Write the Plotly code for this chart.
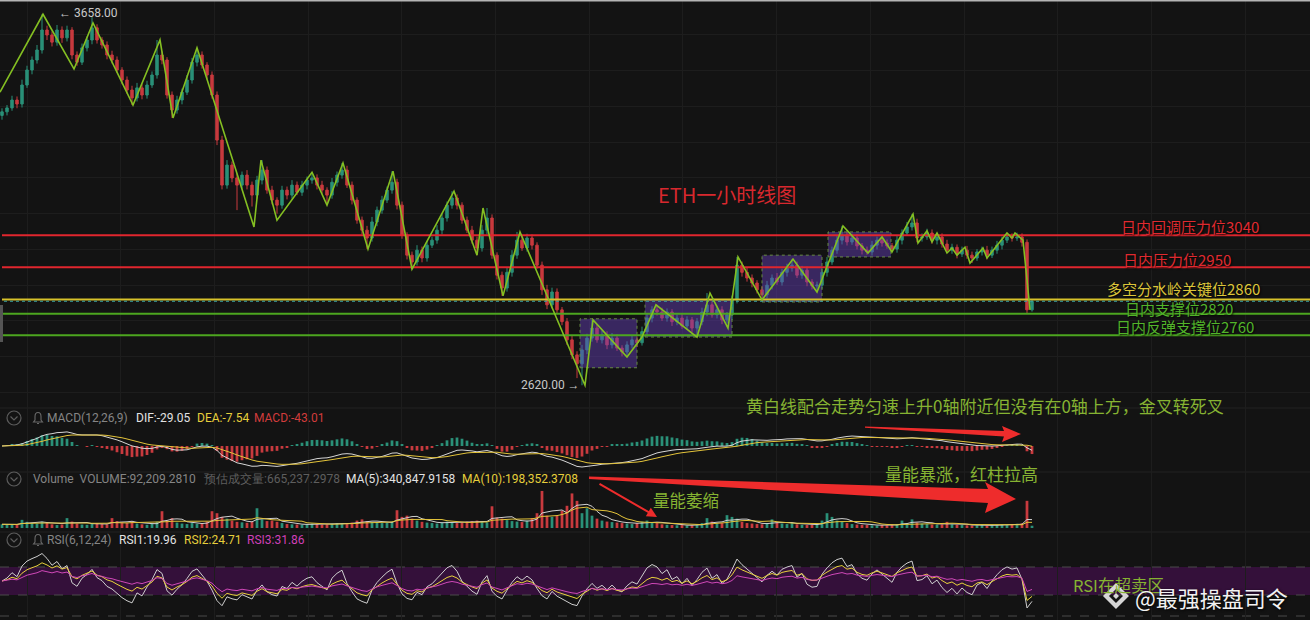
import numpy as np
import pandas as pd
import plotly.graph_objects as go

W, H = 1310, 620

# ---------------- data ----------------
close = [
    3385, 3396, 3418, 3407, 3460, 3502, 3530, 3558, 3614, 3600,
    3580, 3614, 3592, 3614, 3544, 3524, 3564, 3586, 3620, 3586,
    3572, 3544, 3530, 3502, 3474, 3446, 3424, 3452, 3432, 3460,
    3488, 3544, 3530, 3432, 3390, 3418, 3440, 3474, 3524, 3544,
    3516, 3488, 3432, 3306, 3180, 3236, 3200, 3180, 3208, 3180,
    3152, 3194, 3222, 3166, 3138, 3124, 3166, 3152, 3180, 3160,
    3180, 3194, 3200, 3180, 3166, 3152, 3188, 3208, 3222, 3180,
    3138, 3082, 3054, 3032, 3077, 3110, 3138, 3166, 3188, 3124,
    3040, 2984, 2965, 2998, 2976, 3012, 3026, 3054, 3088, 3124,
    3144, 3124, 3082, 3054, 3026, 3004, 3054, 3088, 2984, 2928,
    2892, 2936, 2984, 3026, 3004, 3032, 3012, 2956, 2887, 2845,
    2881, 2831, 2798, 2747, 2705, 2680, 2719, 2752, 2780, 2747,
    2761, 2733, 2752, 2724, 2713, 2733, 2747, 2739, 2770, 2808,
    2831, 2825, 2808, 2825, 2798, 2808, 2786, 2803, 2780, 2798,
    2825, 2845, 2817, 2831, 2803, 2817, 2859, 2956, 2936, 2920,
    2906, 2887, 2873, 2900, 2920, 2909, 2936, 2948, 2956, 2928,
    2942, 2909, 2898, 2900, 2936, 2965, 2998, 3026, 3040, 3021,
    3032, 3010, 2998, 2993, 3012, 3026, 3018, 3010, 3001, 3026,
    3046, 3063, 3074, 3032, 3035, 3046, 3026, 3035, 3015, 2998,
    3006, 2987, 2998, 2984, 2976, 2993, 2998, 2984, 2998, 3012,
    3026, 3035, 3032, 3035, 3020, 2831, 2855,
]
first_open = 3375
wick_up = [
    10, 8, 12, 10, 15, 12, 10, 14, 44, 12,
    10, 14, 10, 12, 8, 10, 12, 10, 30, 10,
    8, 10, 12, 10, 8, 10, 12, 14, 10, 12,
    10, 42, 10, 8, 10, 12, 10, 14, 12, 20,
    10, 8, 10, 10, 12, 14, 10, 12, 10, 14,
    10, 12, 28, 10, 12, 8, 12, 10, 14, 10,
    12, 10, 16, 10, 12, 8, 12, 10, 20, 12,
    10, 8, 10, 12, 14, 10, 12, 10, 31, 10,
    10, 8, 10, 14, 10, 12, 10, 14, 12, 10,
    19, 10, 8, 10, 12, 10, 14, 28, 10, 8,
    10, 12, 14, 23, 10, 12, 10, 8, 10, 14,
    12, 10, 8, 10, 12, 10, 14, 12, 23, 10,
    12, 10, 14, 10, 8, 10, 12, 10, 14, 12,
    10, 14, 12, 10, 8, 10, 12, 10, 8, 10,
    12, 33, 10, 12, 10, 8, 12, 23, 10, 12,
    10, 8, 10, 12, 10, 14, 10, 12, 17, 10,
    12, 10, 8, 10, 12, 14, 10, 12, 26, 10,
    12, 10, 8, 10, 12, 10, 9, 10, 8, 12,
    10, 14, 25, 12, 10, 12, 10, 8, 10, 12,
    10, 8, 10, 12, 10, 8, 10, 12, 10, 12,
    10, 11, 10, 12, 10, 8, 6,
]
wick_dn = [
    12, 10, 8, 12, 10, 8, 12, 10, 10, 14,
    12, 10, 14, 10, 12, 10, 8, 10, 12, 10,
    10, 12, 10, 8, 12, 10, 20, 10, 12, 10,
    8, 10, 12, 10, 22, 10, 12, 8, 10, 12,
    10, 12, 10, 14, 12, 10, 12, 70, 10, 12,
    32, 10, 12, 10, 12, 24, 10, 12, 10, 8,
    10, 12, 10, 12, 10, 28, 10, 12, 10, 8,
    12, 10, 12, 31, 10, 12, 10, 8, 10, 12,
    10, 12, 20, 10, 12, 10, 8, 10, 12, 10,
    10, 12, 10, 8, 10, 20, 10, 12, 10, 12,
    22, 10, 12, 10, 8, 10, 12, 10, 14, 12,
    10, 12, 10, 14, 12, 40, 60, 12, 10, 8,
    10, 12, 10, 8, 12, 14, 10, 12, 8, 10,
    12, 10, 8, 10, 12, 10, 8, 10, 12, 25,
    10, 12, 8, 10, 12, 10, 14, 10, 12, 10,
    12, 10, 14, 10, 12, 8, 10, 12, 10, 8,
    10, 12, 10, 17, 10, 12, 8, 10, 12, 10,
    8, 10, 12, 8, 10, 12, 10, 8, 8, 10,
    12, 8, 10, 12, 10, 8, 10, 12, 10, 8,
    10, 12, 8, 10, 14, 8, 10, 12, 8, 10,
    12, 8, 10, 8, 12, 9, 5,
]
volume_k = [
    150, 130, 160, 140, 330, 250, 200, 180, 260, 220,
    150, 120, 140, 400, 260, 180, 140, 130, 170, 200,
    160, 150, 400, 280, 220, 200, 260, 180, 150, 130,
    170, 250, 680, 300, 400, 220, 180, 160, 200, 170,
    200, 260, 680, 600, 450, 380, 300, 250, 230, 210,
    260, 800, 350, 280, 300, 250, 200, 160, 150, 140,
    130, 150, 180, 160, 140, 150, 170, 200, 180, 160,
    220, 300, 350, 280, 240, 220, 200, 210, 260, 720,
    450, 500, 380, 300, 250, 220, 200, 180, 220, 260,
    240, 200, 220, 260, 280, 300, 250, 230, 880, 420,
    380, 320, 280, 260, 240, 300, 400, 600, 1500, 500,
    450, 500, 700, 900, 1400, 1100, 600, 800, 500, 380,
    300, 260, 240, 220, 200, 180, 160, 200, 260, 300,
    220, 200, 150, 130, 120, 110, 120, 100, 110, 130,
    200, 400, 260, 180, 200, 520, 450, 380, 250, 200,
    180, 160, 150, 200, 350, 220, 180, 160, 200, 150,
    130, 120, 140, 160, 300, 600, 450, 300, 250, 200,
    160, 140, 130, 120, 110, 100, 120, 110, 130, 160,
    300, 200, 350, 220, 180, 160, 140, 130, 150, 250,
    150, 130, 120, 110, 100, 110, 120, 100, 110, 120,
    130, 120, 150, 170, 190, 1100, 92,
]
zz_idx = [-0.4, 8.2, 14.4, 18.2, 26.2, 31.6, 34.2, 39, 50.4, 51.8,
          55, 62, 65, 68.2, 73.2, 78.2, 82, 90.4, 95, 96.2,
          100.2, 103.6, 116.6, 118.2, 125, 128, 130.8, 139, 141.6, 145.2,
          147.2, 152, 158.2, 163, 168.2, 173.2, 176, 178, 182.2, 183.2,
          185, 186, 187, 189, 190, 191, 192.6, 193.6, 196.2, 197,
          201, 202, 202.6, 204.2, 205.6]
zz_price = [3440, 3658, 3505, 3634, 3404, 3586, 3368, 3564, 3063, 3250,
            3082, 3216, 3124, 3242, 3001, 3219, 2945, 3163, 2984, 3116,
            2870, 3049, 2620, 2803, 2699, 2755, 2845, 2755, 2878, 2780,
            2979, 2859, 2973, 2881, 3066, 2990, 3035, 2993, 3099, 3018,
            3052, 3021, 3046, 2990, 3004, 2984, 3006, 2962, 3004, 2976,
            3046, 3032, 3046, 3026, 2831]
levels = [3040, 2950, 2860, 2820, 2760]
level_texts = ["日内回调压力位3040", "日内压力位2950", "多空分水岭关键位2860",
               "日内支撑位2820", "日内反弹支撑位2760"]
box_i0 = [115.6, 128.6, 152.0, 165.2]
box_i1 = [127.0, 146.0, 164.0, 177.8]
box_hi = [2806, 2859, 2984, 3049]
box_lo = [2669, 2755, 2853, 2979]
high_label, low_label = "3658.00", "2620.00"

# ---------------- styles ----------------
BG = "#131313"
GRID = "#1d1d1d"
INC = "#2a9078"
DEC = "#c83a3e"
RED = "#e0262e"
YEL = "#d8c22a"
GRN = "#4ca61f"
TXTG = "#86b332"
level_colors = [RED, RED, YEL, GRN, GRN]
level_font_colors = ["#e02a30", "#e02a30", "#dcc53a", "#52b42a", "#52b42a"]
label_px = [(1190, 226), (1177, 259), (1183, 288.5), (1179, 308), (1185, 326.5)]
CJK = "Noto Sans CJK SC, Noto Sans, sans-serif"
LAT = "Roboto, Noto Sans, sans-serif"

n = len(close)
idx = np.arange(n)
opens = [first_open] + close[:-1]
highs = [max(o, c) + u for o, c, u in zip(opens, close, wick_up)]
lows = [min(o, c) - d for o, c, d in zip(opens, close, wick_dn)]
up_mask = [c >= o for o, c in zip(opens, close)]

c = pd.Series(close, dtype=float)
ema12 = c.ewm(span=12, adjust=False).mean()
ema26 = c.ewm(span=26, adjust=False).mean()
dif = ema12 - ema26
dea = dif.ewm(span=9, adjust=False).mean()
hist = 2 * (dif - dea)

vol = pd.Series(volume_k, dtype=float)
ma5 = vol.rolling(5, min_periods=1).mean()
ma10 = vol.rolling(10, min_periods=1).mean()


def rsi(period):
    # Wilder smoothing, seeded with the average absolute move (neutral start)
    d = np.diff(np.asarray(close, dtype=float), prepend=close[0])
    m = float(np.mean(np.abs(np.diff(close))))
    a, b = 0.5 * m, m
    out = []
    for x in d:
        a += (max(x, 0.0) - a) / period
        b += (abs(x) - b) / period
        out.append(100 * a / b)
    return out


r6, r12, r24 = rsi(6), rsi(12), rsi(24)

fig = go.Figure()
fig.add_trace(go.Candlestick(
    x=idx, open=opens, high=highs, low=lows, close=close,
    increasing=dict(line=dict(color=INC, width=1), fillcolor=INC),
    decreasing=dict(line=dict(color=DEC, width=1), fillcolor=DEC),
    whiskerwidth=0, showlegend=False, hoverinfo="skip", yaxis="y"))

fig.add_trace(go.Bar(x=idx, y=hist, width=0.55, yaxis="y2",
                     marker=dict(color=[INC if h >= 0 else DEC for h in hist], line=dict(width=0))))
fig.add_trace(go.Scatter(x=idx, y=dif, mode="lines", line=dict(color="#d6d6d6", width=1), yaxis="y2"))
fig.add_trace(go.Scatter(x=idx, y=dea, mode="lines", line=dict(color="#e3c33a", width=1), yaxis="y2"))

fig.add_trace(go.Bar(x=idx, y=volume_k, width=0.55, yaxis="y3",
                     marker=dict(color=[INC if u else DEC for u in up_mask], line=dict(width=0))))
fig.add_trace(go.Scatter(x=idx, y=ma5, mode="lines", line=dict(color="#d0d0d0", width=1), yaxis="y3"))
fig.add_trace(go.Scatter(x=idx, y=ma10, mode="lines", line=dict(color="#e3c33a", width=1), yaxis="y3"))

fig.add_trace(go.Scatter(x=idx, y=r6, mode="lines", line=dict(color="#cfcfcf", width=1), yaxis="y4"))
fig.add_trace(go.Scatter(x=idx, y=r12, mode="lines", line=dict(color="#e8d23c", width=1), yaxis="y4"))
fig.add_trace(go.Scatter(x=idx, y=r24, mode="lines", line=dict(color="#d048b8", width=1), yaxis="y4"))

# MACD range: zero at pixel 446 inside panel 408..472, deepest DIF ~21px below zero
mneg = abs(min(dif.min(), dea.min()))
macd_range = [-mneg * 26 / 21, mneg * 38 / 21]


def X(px):
    return px / W


def Y(py):
    return 1 - py / H


def ppath(s):
    out = []
    for t in s.split():
        if "," in t:
            a, b = t.split(",")
            out.append(f"{X(float(a)):.5f},{Y(float(b)):.5f}")
        else:
            out.append(t)
    return " ".join(out)


shapes = []
# RSI band + dashed guides
shapes.append(dict(type="rect", xref="paper", yref="y4", x0=0, x1=1, y0=30, y1=70,
                   fillcolor="#34103a", line=dict(width=0), layer="below"))
for lv in (70, 30, 0):
    shapes.append(dict(type="line", xref="paper", yref="y4", x0=0, x1=1, y0=lv, y1=lv,
                       line=dict(color="#4a4a4a", width=1, dash="dash"), layer="below"))
# panel separators
for py in (408, 472, 532):
    shapes.append(dict(type="line", xref="paper", yref="paper", x0=0, x1=1, y0=Y(py), y1=Y(py),
                       line=dict(color="#222222", width=1), layer="below"))
# consolidation boxes
for a, b, hi, lo in zip(box_i0, box_i1, box_hi, box_lo):
    shapes.append(dict(type="rect", xref="x", yref="y", x0=a, x1=b, y0=lo, y1=hi,
                       fillcolor="rgba(104,64,190,0.45)",
                       line=dict(color="rgba(110,150,70,0.9)", width=1, dash="dot"), layer="above"))
# key levels
for lv, col in zip(levels, level_colors):
    shapes.append(dict(type="line", xref="paper", yref="y", x0=X(2), x1=1, y0=lv, y1=lv,
                       line=dict(color=col, width=2), layer="above"))
# last price dotted line
shapes.append(dict(type="line", xref="paper", yref="y", x0=X(4), x1=1, y0=close[-1], y1=close[-1],
                   line=dict(color="#3aa0a0", width=1, dash="dot"), layer="above"))
# zigzag wave line (drawn through the data axes)
zz = "M " + " L ".join(f"{i},{p}" for i, p in zip(zz_idx, zz_price))
shapes.append(dict(type="path", xref="x", yref="y", path=zz,
                   line=dict(color="#84bf22", width=1.6), layer="above"))
# red arrows
shapes.append(dict(type="path", xref="paper", yref="paper",
                   path=ppath("M 865,426.5 L 1004,431 L 1002,426 L 1021,434 L 1002,442 L 1004,436.5 L 865,427.8 Z"),
                   fillcolor="#ee2c2c", line=dict(width=0), layer="above"))
shapes.append(dict(type="path", xref="paper", yref="paper",
                   path=ppath("M 589,476.5 L 988,489 L 985,482 L 1016,499 L 985,513 L 988,503 L 589,479 Z"),
                   fillcolor="#ee2c2c", line=dict(width=0), layer="above"))
# top border & left handle
shapes.append(dict(type="line", xref="paper", yref="paper", x0=0, x1=1, y0=Y(0.8), y1=Y(0.8),
                   line=dict(color="#b5b5b5", width=1.6), layer="above"))
shapes.append(dict(type="rect", xref="paper", yref="paper", x0=0, x1=X(3), y0=Y(342), y1=Y(305),
                   fillcolor="#555555", line=dict(width=0), layer="above"))
# header icons
for cy, bell in ((418, True), (479, False), (540, True)):
    shapes.append(dict(type="circle", xref="paper", yref="paper", x0=X(7), x1=X(21), y0=Y(cy + 7), y1=Y(cy - 7),
                       line=dict(color="#5c5c5c", width=1.2)))
    shapes.append(dict(type="path", xref="paper", yref="paper",
                       path=ppath(f"M 10.5,{cy - 1.5} L 14,{cy + 2} L 17.5,{cy - 1.5}"),
                       line=dict(color="#5c5c5c", width=1.2)))
    if bell:
        shapes.append(dict(type="path", xref="paper", yref="paper",
                           path=ppath(f"M 33.5,{cy + 4} L 42.5,{cy + 4} L 41,{cy + 2} L 41,{cy - 1.5} "
                                      f"Q 41,{cy - 5.5} 38,{cy - 5.5} Q 35,{cy - 5.5} 35,{cy - 1.5} "
                                      f"L 35,{cy + 2} Z M 37,{cy + 5.5} L 39,{cy + 5.5}"),
                           line=dict(color="#6a6a6a", width=1.1)))
# binance-like logo
cx, cy = 1116, 596
shapes.append(dict(type="path", xref="paper", yref="paper",
                   path=ppath(f"M {cx},{cy - 13} L {cx + 13},{cy} L {cx},{cy + 13} L {cx - 13},{cy} Z "
                              f"M {cx},{cy - 7} L {cx - 7},{cy} L {cx},{cy + 7} L {cx + 7},{cy} Z "
                              f"M {cx},{cy - 3} L {cx + 3},{cy} L {cx},{cy + 3} L {cx - 3},{cy} Z"),
                   fillcolor="rgba(235,235,235,0.9)", line=dict(width=0), layer="above"))

ann = []


def txt(s, px, py, color, size, family=LAT, xanchor="left", shadow=None):
    f = dict(color=color, size=size, family=family)
    if shadow:
        f["shadow"] = shadow
    ann.append(dict(text=s, x=X(px), y=Y(py), xref="paper", yref="paper", showarrow=False,
                    xanchor=xanchor, yanchor="middle", borderpad=0, font=f))


SH = "1px 1px 2px rgba(0,0,0,0.9)"
for t, (px, py), col in zip(level_texts, label_px, level_font_colors):
    txt(t, px, py, col, 15, CJK, "center", SH)
txt("ETH一小时线图", 657, 194, "#d8282e", 20, CJK)
txt("← " + high_label, 58, 13, "#c8c8c8", 12)
txt(low_label + " →", 581, 385, "#c8c8c8", 12, xanchor="right")

txt("MACD(12,26,9)", 46, 418, "#858585", 12)
txt("DIF:-29.05", 135, 418, "#e2e2e2", 12)
txt("DEA:-7.54", 196, 418, "#e6cf3c", 12)
txt("MACD:-43.01", 253, 418, "#d23c3c", 12)

txt("Volume  VOLUME:92,209.2810", 32, 479, "#858585", 12)
txt("预估成交量:665,237.2978", 203, 479, "#5e5e5e", 12)
txt("MA(5):340,847.9158", 345, 479, "#e2e2e2", 12)
txt("MA(10):198,352.3708", 461, 479, "#e6cf3c", 12)

txt("RSI(6,12,24)", 46, 540, "#858585", 12)
txt("RSI1:19.96", 118, 540, "#e2e2e2", 12)
txt("RSI2:24.71", 183, 540, "#e6cf3c", 12)
txt("RSI3:31.86", 246, 540, "#d040b8", 12)

txt("黄白线配合走势匀速上升0轴附近但没有在0轴上方，金叉转死叉", 745, 405, TXTG, 17, CJK)
txt("量能暴涨，红柱拉高", 884, 473, TXTG, 17, CJK)
txt("量能萎缩", 652, 500, TXTG, 16.5, CJK)
txt("RSI在超卖区", 1072, 585, TXTG, 16.5, CJK)
txt("@最强操盘司令", 1134, 597, "#f2f2f2", 22, CJK, shadow="1px 1px 3px rgba(0,0,0,0.9)")

ann.append(dict(x=X(657), y=Y(517), xref="paper", yref="paper", ax=-59, ay=-34, text="",
                showarrow=True, arrowhead=2, arrowsize=1, arrowwidth=2, arrowcolor="#ee2c2c"))

noax = dict(showgrid=False, showticklabels=False, zeroline=False, showline=False, fixedrange=True)
fig.update_layout(
    width=W, height=H, margin=dict(l=0, r=0, t=0, b=0),
    paper_bgcolor=BG, plot_bgcolor=BG, showlegend=False, barmode="overlay",
    xaxis=dict(range=[-0.4, 261.6], showgrid=True, gridcolor=GRID, tick0=5, dtick=18.74,
               showticklabels=False, zeroline=False, showline=False, fixedrange=True,
               rangeslider=dict(visible=False)),
    yaxis=dict(domain=[1 - 408 / H, 1], range=[2556.4, 3697.9], showgrid=True, gridcolor=GRID,
               tick0=0, dtick=100, showticklabels=False, zeroline=False, showline=False),
    yaxis2=dict(domain=[1 - 472 / H, 1 - 408 / H], range=macd_range, anchor="x", **noax),
    yaxis3=dict(domain=[1 - 532 / H, 1 - 472 / H], range=[-162, 2268], anchor="x", **noax),
    yaxis4=dict(domain=[0, 1 - 532 / H], range=[-5.71, 120], anchor="x", **noax),
    shapes=shapes, annotations=ann,
)
fig.write_html(
    "out.html",
    config={"displayModeBar": False},
    post_script="document.body.style.margin='0';document.body.style.padding='0';"
                "document.body.style.overflow='hidden';document.body.style.background='#131313';",
)
